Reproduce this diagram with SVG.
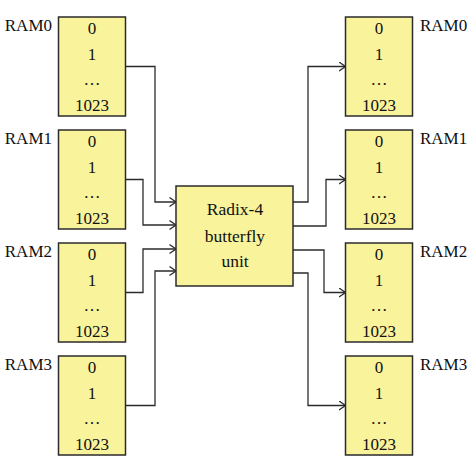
<svg xmlns="http://www.w3.org/2000/svg" width="474" height="474" viewBox="0 0 474 474">
<defs>
<style>
.box{fill:#f9f39c;stroke:#2b2b2b;stroke-width:1.5}
text{font-family:'Liberation Serif','DejaVu Serif',serif;fill:#111111}
.t{font-size:17px;text-anchor:middle}
.lbl{font-size:17px}
.c{font-size:17.5px;text-anchor:middle}
.wire{fill:none;stroke:#2b2b2b;stroke-width:1.3;marker-end:url(#arr)}
</style>
<marker id="arr" markerUnits="userSpaceOnUse" markerWidth="10" markerHeight="12" refX="7" refY="5" orient="auto">
<path d="M0.5,0.5 L7,5 L0.5,9.5" fill="none" stroke="#2b2b2b" stroke-width="1.3"/>
</marker>
</defs>
<rect width="474" height="474" fill="#ffffff"/>
<g id="connectors">
<path class="wire" d="M125.5,66.5 H155 V202 H176"/>
<path class="wire" d="M125.5,179.5 H143 V225 H176"/>
<path class="wire" d="M125.5,292.5 H143 V249 H176"/>
<path class="wire" d="M125.5,405.5 H155 V271 H176"/>
<path class="wire" d="M293,202 H308 V66.5 H345.5"/>
<path class="wire" d="M293,226 H326 V179.5 H345.5"/>
<path class="wire" d="M293,250 H324 V292.5 H345.5"/>
<path class="wire" d="M293,273 H308 V405.5 H345.5"/>
</g>
<g id="left-ram0">
<rect class="box" x="58.5" y="17" width="67" height="99"/>
<text class="lbl" x="52" y="31" text-anchor="end">RAM0</text>
<text class="t" x="92" y="34">0</text><text class="t" x="92" y="60">1</text><text class="t" x="92" y="85">…</text><text class="t" x="92" y="111">1023</text>
</g>
<g id="left-ram1">
<rect class="box" x="58.5" y="130" width="67" height="99"/>
<text class="lbl" x="52" y="144" text-anchor="end">RAM1</text>
<text class="t" x="92" y="147">0</text><text class="t" x="92" y="173">1</text><text class="t" x="92" y="198">…</text><text class="t" x="92" y="224">1023</text>
</g>
<g id="left-ram2">
<rect class="box" x="58.5" y="243" width="67" height="99"/>
<text class="lbl" x="52" y="257" text-anchor="end">RAM2</text>
<text class="t" x="92" y="260">0</text><text class="t" x="92" y="286">1</text><text class="t" x="92" y="311">…</text><text class="t" x="92" y="337">1023</text>
</g>
<g id="left-ram3">
<rect class="box" x="58.5" y="356" width="67" height="99"/>
<text class="lbl" x="52" y="370" text-anchor="end">RAM3</text>
<text class="t" x="92" y="373">0</text><text class="t" x="92" y="399">1</text><text class="t" x="92" y="424">…</text><text class="t" x="92" y="450">1023</text>
</g>
<g id="butterfly">
<rect class="box" x="176" y="186" width="117" height="100"/>
<text class="c" x="235" y="215">Radix-4</text>
<text class="c" x="235" y="242">butterfly</text>
<text class="c" x="235" y="267">unit</text>
</g>
<g id="right-ram0">
<rect class="box" x="345.5" y="17" width="67" height="99"/>
<text class="lbl" x="420" y="31">RAM0</text>
<text class="t" x="379" y="34">0</text><text class="t" x="379" y="60">1</text><text class="t" x="379" y="85">…</text><text class="t" x="379" y="111">1023</text>
</g>
<g id="right-ram1">
<rect class="box" x="345.5" y="130" width="67" height="99"/>
<text class="lbl" x="420" y="144">RAM1</text>
<text class="t" x="379" y="147">0</text><text class="t" x="379" y="173">1</text><text class="t" x="379" y="198">…</text><text class="t" x="379" y="224">1023</text>
</g>
<g id="right-ram2">
<rect class="box" x="345.5" y="243" width="67" height="99"/>
<text class="lbl" x="420" y="257">RAM2</text>
<text class="t" x="379" y="260">0</text><text class="t" x="379" y="286">1</text><text class="t" x="379" y="311">…</text><text class="t" x="379" y="337">1023</text>
</g>
<g id="right-ram3">
<rect class="box" x="345.5" y="356" width="67" height="99"/>
<text class="lbl" x="420" y="370">RAM3</text>
<text class="t" x="379" y="373">0</text><text class="t" x="379" y="399">1</text><text class="t" x="379" y="424">…</text><text class="t" x="379" y="450">1023</text>
</g>
</svg>
